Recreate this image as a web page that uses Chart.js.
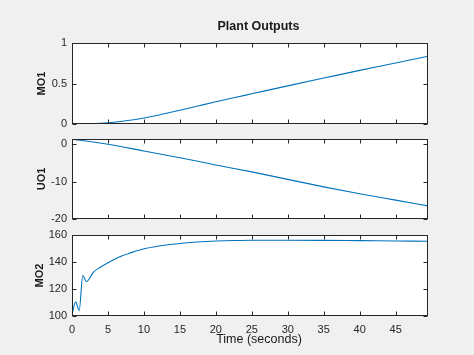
<!DOCTYPE html>
<html><head><meta charset="utf-8">
<script src="https://cdn.jsdelivr.net/npm/chart.js@4"></script>
<style>
html,body{margin:0;padding:0;background:#f0f0f0;}
#wrap{position:relative;width:474px;height:355px;overflow:hidden;background:#f0f0f0;font-family:"Liberation Sans",Arial,sans-serif;}
canvas{position:absolute;left:0;top:0;}
.txt{position:absolute;white-space:nowrap;color:#1a1a1a;transform:translate(-50%,-50%);line-height:1;}
</style></head>
<body><div id="wrap">
<canvas id="c1" width="474" height="355"></canvas>
<canvas id="c2" width="474" height="355"></canvas>
<canvas id="c3" width="474" height="355"></canvas>
<div class="txt" style="left:258.5px;top:26px;font-weight:bold;font-size:12.5px;">Plant Outputs</div>
<div class="txt" style="left:259px;top:339px;font-size:12.5px;">Time (seconds)</div>
</div>
<script>
// ---- data ----
const xTicks = [0, 5, 10, 15, 20, 25, 30, 35, 40, 45];
const xMax = 49.5;

const tMO1 = [0, 2.5, 5, 7.5, 10, 12.5, 15, 17.5, 20, 22.5, 25, 30, 35, 40, 45, 49.5];
const MO1  = [0, 0.004, 0.015, 0.04, 0.074, 0.12, 0.17, 0.222, 0.274, 0.324, 0.373, 0.471, 0.567, 0.662, 0.753, 0.836];
const yTicksMO1 = [0, 0.5, 1];

const tUO1 = [0, 5, 10, 15, 20, 25, 30, 35, 40, 45, 49.5];
const UO1  = [1.35, 0, -1.8, -3.6, -5.55, -7.4, -9.4, -11.4, -13.25, -14.95, -16.5];
const yTicksUO1 = [-20, -10, 0];

const tMO2 = [0, 0.5, 1.0, 1.5, 2.0, 3.0, 4, 5, 6, 7, 8, 10, 12, 14, 16, 18, 20, 22.5, 25, 30, 35, 40, 45, 49.5];
const MO2  = [101, 110.5, 104, 130, 125.5, 132.5, 136.3, 139.5, 142.3, 144.6, 146.5, 149.8, 151.8, 153.2, 154.3, 155.0, 155.5, 155.9, 156.1, 156.1, 156.0, 155.8, 155.6, 155.4];
const yTicksMO2 = [100, 120, 140, 160];

// ---- drawing ----
const AX = '#262626';
const FONT = '"Liberation Sans", Arial, sans-serif';

const frame = {
  id: 'frame',
  beforeDraw(chart) {
    const a = chart.chartArea, c = chart.ctx;
    c.save(); c.fillStyle = '#ffffff';
    c.fillRect(a.left, a.top, a.right - a.left, a.bottom - a.top);
    c.restore();
  },
  afterDraw(chart) {
    const a = chart.chartArea, c = chart.ctx, x = chart.scales.x, y = chart.scales.y;
    const L = Math.round(a.left) + 0.5, R = Math.round(a.right) - 0.5;
    const T = Math.round(a.top) + 0.5, B = Math.round(a.bottom) - 0.5;
    c.save(); c.strokeStyle = AX; c.lineWidth = 1;
    c.beginPath();
    xTicks.forEach(v => {
      const px = Math.round(x.getPixelForValue(v)) + 0.5;
      c.moveTo(px, T); c.lineTo(px, T + 4);
      c.moveTo(px, B); c.lineTo(px, B - 4);
    });
    y.ticks.forEach(t => {
      const py = Math.round(y.getPixelForValue(t.value)) + 0.5;
      c.moveTo(L, py); c.lineTo(L + 4, py);
      c.moveTo(R, py); c.lineTo(R - 4, py);
    });
    c.stroke();
    c.strokeRect(L, T, R - L, B - T);
    c.restore();
  }
};

function makePanel(id, ts, vs, yMin, yMax, yTicks, yLabel, top, bottom, showX, labelX) {
  const xh = showX ? 29 : 0;
  const pts = ts.map((t, i) => ({x: t, y: vs[i]}));
  return new Chart(document.getElementById(id), {
    type: 'line',
    data: { datasets: [{ data: pts, borderColor: '#0072BD', borderWidth: 1.1, pointRadius: 0, fill: false, cubicInterpolationMode: 'monotone' }] },
    options: {
      responsive: false, animation: false, events: [],
      layout: { padding: { left: 0, right: 46, top: top, bottom: 355 - bottom - xh } },
      plugins: { legend: { display: false }, tooltip: { enabled: false }, title: { display: false } },
      scales: {
        x: {
          type: 'linear', min: 0, max: xMax,
          afterBuildTicks: s => { s.ticks = xTicks.map(v => ({value: v})); },
          afterFit: s => { s.height = xh; },
          grid: { display: false, drawTicks: false, tickLength: 0 }, border: { display: false },
          ticks: { display: showX, autoSkip: false, maxRotation: 0, padding: 7, color: AX,
                   font: { family: FONT, size: 11 }, callback: v => String(v) }
        },
        y: {
          type: 'linear', min: yMin, max: yMax,
          afterBuildTicks: s => { s.ticks = yTicks.map(v => ({value: v})); },
          afterFit: s => { s.width = 72; },
          grid: { display: false, drawTicks: false, tickLength: 0 }, border: { display: false },
          ticks: { autoSkip: false, padding: 5, color: AX, font: { family: FONT, size: 11 }, callback: v => String(v) },
          title: { display: true, text: yLabel, color: '#1a1a1a', font: { family: FONT, size: 11, weight: 'bold' },
                   padding: { top: labelX - 6.6, bottom: 0 } }
        }
      }
    },
    plugins: [frame]
  });
}

makePanel('c1', tMO1, MO1, 0, 1, yTicksMO1, 'MO1', 43, 124, false, 42);
makePanel('c2', tUO1, UO1, -20, 1.4, yTicksUO1, 'UO1', 139, 219, false, 42);
makePanel('c3', tMO2, MO2, 100, 160, yTicksMO2, 'MO2', 235, 316, true, 39.5);
</script>
</body></html>
